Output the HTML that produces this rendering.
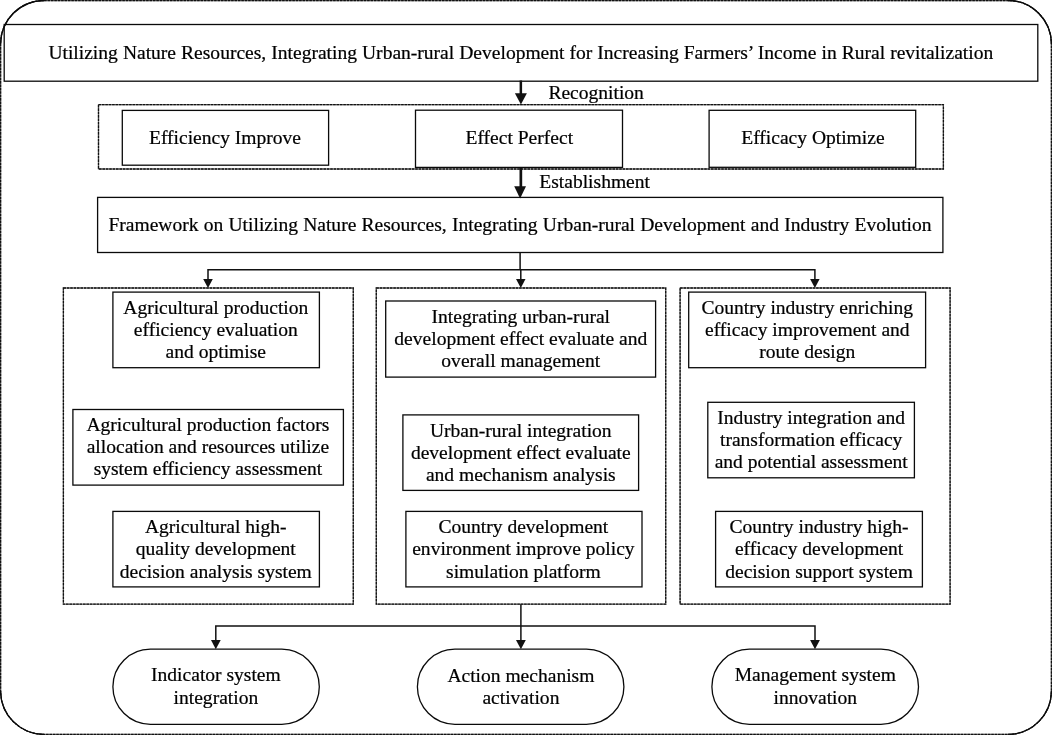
<!DOCTYPE html>
<html><head><meta charset="utf-8"><title>Framework</title>
<style>
html,body{margin:0;padding:0;background:#fff;}
svg{display:block;will-change:transform;}
text{font-family:"Liberation Serif","Times New Roman",serif;font-size:19.55px;fill:#000;stroke:#000;stroke-width:0.22px;text-anchor:middle;}
.b{fill:none;stroke:#0a0a0a;stroke-width:1.3;}
.du{fill:none;stroke:#7a7a7a;stroke-width:1.25;}
.d{fill:none;stroke:#111;stroke-width:1.3;stroke-dasharray:2.6 0.8;}
.c{fill:none;stroke:#0a0a0a;stroke-width:1.3;}
.l{fill:none;stroke:#111;stroke-width:1.5;}
.t{fill:none;stroke:#111;stroke-width:2.5;}
.t2{fill:none;stroke:#111;stroke-width:2.7;}
.a{fill:#111;stroke:none;}
</style></head><body>
<svg width="1052" height="735" viewBox="0 0 1052 735">
<rect x="0" y="0" width="1052" height="735" fill="#fff"/>

<rect class="du" x="0.6" y="0.5" width="1050.8" height="733.9" rx="43.5"/>
<rect class="d" x="0.6" y="0.5" width="1050.8" height="733.9" rx="43.5"/>
<path class="c" d="M0.6,44.0 A43.5,43.5 0 0 1 44.1,0.5 M1007.9,0.5 A43.5,43.5 0 0 1 1051.4,44.0 M1051.4,690.9 A43.5,43.5 0 0 1 1007.9,734.4 M44.1,734.4 A43.5,43.5 0 0 1 0.6,690.9"/>
<rect class="b" x="4.2" y="24.5" width="1033.6" height="56.7"/>
<text x="520.8" y="58.7" style="word-spacing:0.17px">Utilizing Nature Resources, Integrating Urban-rural Development for Increasing Farmers’ Income in Rural revitalization</text>
<line class="t" x1="520.85" y1="80.5" x2="520.85" y2="95"/>
<polygon class="a" points="514.9,93.2 526.9,93.2 520.9,104.6"/>
<text x="548.4" y="98.6" style="text-anchor:start">Recognition</text>
<rect class="du" x="98.5" y="104.7" width="844.9" height="64.3"/>
<rect class="d" x="98.5" y="104.7" width="844.9" height="64.3"/>
<rect class="b" x="122.3" y="110.4" width="206.3" height="54.8"/>
<text x="225.0" y="144.0">Efficiency Improve</text>
<rect class="b" x="415.5" y="110.2" width="207.0" height="57.2"/>
<text x="519.3" y="144.4">Effect Perfect</text>
<rect class="b" x="709.1" y="110.3" width="206.6" height="57.0"/>
<text x="812.9" y="144.3">Efficacy Optimize</text>
<line class="t2" x1="520.85" y1="168" x2="520.85" y2="188.5"/>
<polygon class="a" points="514.2,186.2 526.0,186.2 520.1,198.4"/>
<text x="539.3" y="187.8" style="text-anchor:start">Establishment</text>
<rect class="b" x="97.6" y="197.4" width="845.3" height="55.1"/>
<text x="520.0" y="230.6" style="word-spacing:0.35px">Framework on Utilizing Nature Resources, Integrating Urban-rural Development and Industry Evolution</text>
<path class="l" d="M208,280 V269.8 H814.9 V280 M520.1,252.5 V269.8 M520.8,269.8 V280"/>
<polygon class="a" points="203.2,279.0 212.8,279.0 208.0,287.9"/>
<polygon class="a" points="516.0,279.0 525.5,279.0 520.8,287.9"/>
<polygon class="a" points="810.1,279.0 819.6,279.0 814.9,287.9"/>
<rect class="du" x="63.4" y="288.0" width="289.9" height="316.2"/>
<rect class="d" x="63.4" y="288.0" width="289.9" height="316.2"/>
<rect class="du" x="376.3" y="288.0" width="289.4" height="316.2"/>
<rect class="d" x="376.3" y="288.0" width="289.4" height="316.2"/>
<rect class="du" x="680.1" y="288.0" width="270.0" height="316.2"/>
<rect class="d" x="680.1" y="288.0" width="270.0" height="316.2"/>
<rect class="b" x="112.9" y="292.1" width="206.5" height="75.6"/>
<text x="215.8" y="313.6">Agricultural production</text>
<text x="215.8" y="336.0">efficiency evaluation</text>
<text x="215.8" y="358.3">and optimise</text>
<rect class="b" x="72.9" y="409.5" width="270.5" height="75.6"/>
<text x="207.9" y="430.7">Agricultural production factors</text>
<text x="207.9" y="453.1">allocation and resources utilize</text>
<text x="207.9" y="475.4">system efficiency assessment</text>
<rect class="b" x="112.9" y="511.4" width="206.5" height="75.5"/>
<text x="215.8" y="532.9">Agricultural high-</text>
<text x="215.8" y="555.2">quality development</text>
<text x="215.8" y="577.6">decision analysis system</text>
<rect class="b" x="385.7" y="301.0" width="269.9" height="76.1"/>
<text x="520.8" y="322.6">Integrating urban-rural</text>
<text x="520.8" y="345.0">development effect evaluate and</text>
<text x="520.8" y="367.3">overall management</text>
<rect class="b" x="402.9" y="414.9" width="235.7" height="75.5"/>
<text x="520.8" y="436.5">Urban-rural integration</text>
<text x="520.8" y="458.9">development effect evaluate</text>
<text x="520.8" y="481.2">and mechanism analysis</text>
<rect class="b" x="405.9" y="511.4" width="236.1" height="75.5"/>
<text x="523.4" y="532.9">Country development</text>
<text x="523.4" y="555.2">environment improve policy</text>
<text x="523.4" y="577.6">simulation platform</text>
<rect class="b" x="688.7" y="292.1" width="236.9" height="75.6"/>
<text x="807.3" y="313.6">Country industry enriching</text>
<text x="807.3" y="336.0">efficacy improvement and</text>
<text x="807.3" y="358.3">route design</text>
<rect class="b" x="707.8" y="402.3" width="206.6" height="75.5"/>
<text x="811.2" y="423.7">Industry integration and</text>
<text x="811.2" y="446.1">transformation efficacy</text>
<text x="811.2" y="468.4">and potential assessment</text>
<rect class="b" x="715.6" y="511.4" width="206.8" height="75.5"/>
<text x="819.1" y="532.9">Country industry high-</text>
<text x="819.1" y="555.2">efficacy development</text>
<text x="819.1" y="577.6">decision support system</text>
<path class="l" d="M215.8,641 V625.9 H815 V641 M520.9,604.2 V641"/>
<polygon class="a" points="211.0,640.1 220.7,640.1 215.8,649.3"/>
<polygon class="a" points="516.0,640.1 525.8,640.1 520.9,649.3"/>
<polygon class="a" points="810.1,640.1 819.9,640.1 815.0,649.3"/>
<rect class="b" x="112.9" y="649.2" width="206.4" height="75.1" rx="37.5"/>
<text x="215.9" y="681.4">Indicator system</text>
<text x="215.9" y="703.5">integration</text>
<rect class="b" x="417.4" y="649.2" width="206.5" height="75.1" rx="37.5"/>
<text x="520.9" y="681.8">Action mechanism</text>
<text x="520.9" y="703.9">activation</text>
<rect class="b" x="711.9" y="649.2" width="206.6" height="75.1" rx="37.5"/>
<text x="815.3" y="681.4">Management system</text>
<text x="815.3" y="703.5">innovation</text>
</svg></body></html>
